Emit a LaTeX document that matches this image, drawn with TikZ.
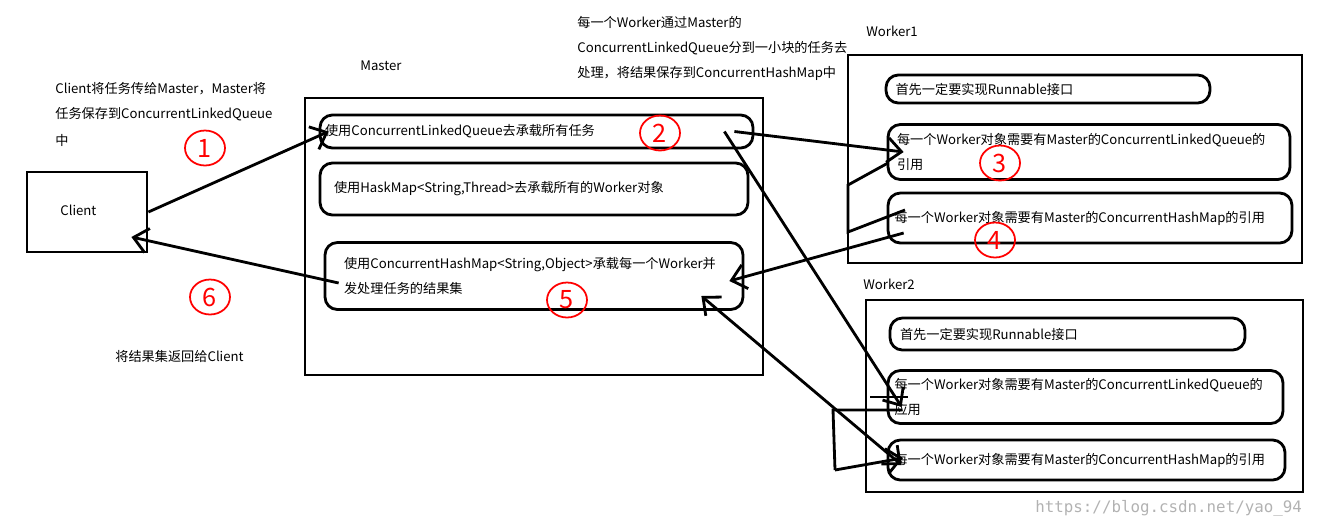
\documentclass[tikz,border=0pt]{standalone}
\usepackage{fontspec}
\setmainfont{Noto Sans CJK SC}
\setmonofont{DejaVu Sans Mono}
\usetikzlibrary{arrows.meta,shapes.geometric}

\begin{document}
\begin{tikzpicture}[x=0.02cm,y=-0.02cm,
    font=\fontsize{7.5}{14.5}\selectfont,
    pen/.style={line width=1.6pt},
    framebox/.style={rectangle, draw, pen},
    roundbox/.style={rectangle, draw, pen, rounded corners=7pt, align=left, inner sep=0pt},
    redmark/.style={ellipse, draw=red, text=red, line width=1pt, minimum width=0.8cm, minimum height=0.7cm, inner sep=0pt, font=\Large},
    note/.style={anchor=west, inner sep=0pt},
    arr/.style={pen, -{Straight Barb[length=8pt, width=14pt]}}]
    \useasboundingbox (0,0) rectangle (1327,528);

    % client side
    \node[framebox, minimum width=2.4cm, minimum height=1.6cm] (client) at (87,212) {};
    \node[note] (clientlbl) at (60,210) {Client};
    \node[note] (t1a) at (55,89) {Client将任务传给Master，Master将};
    \node[note] (t1b) at (55,114) {任务保存到ConcurrentLinkedQueue};
    \node[note] (t1c) at (55,140) {中};
    \node[note] (t6) at (115,356) {将结果集返回给Client};

    % master
    \node[note] (masterlbl) at (360,66) {Master};
    \node[framebox, minimum width=9.16cm, minimum height=5.54cm] (master) at (534,236.5) {};
    \node[roundbox, minimum width=8.66cm, minimum height=0.66cm, text width=8.46cm] (queue) at (536.5,131.5) {使用ConcurrentLinkedQueue去承载所有任务};
    \node[roundbox, minimum width=8.56cm, minimum height=1.04cm, text width=8.0cm] (workers) at (534,189) {使用HaskMap<String,Thread>去承载所有的Worker对象};
    \node[roundbox, minimum width=8.36cm, minimum height=1.34cm, text width=7.6cm] (results) at (534,276) {使用ConcurrentHashMap<String,Object>承载每一个Worker并\\发处理任务的结果集};

    % top note
    \node[note] (t2a) at (577,22) {每一个Worker通过Master的};
    \node[note] (t2b) at (577,48) {ConcurrentLinkedQueue分到一小块的任务去};
    \node[note] (t2c) at (577,73) {处理，将结果保存到ConcurrentHashMap中};

    % worker 1
    \node[note] (w1lbl) at (866,31) {Worker1};
    \node[framebox, minimum width=9.08cm, minimum height=4.16cm] (worker1) at (1075,159) {};
    \node[roundbox, minimum width=6.48cm, minimum height=0.56cm, text width=6.1cm] (w1run) at (1048,89) {首先一定要实现Runnable接口};
    \node[roundbox, minimum width=8.04cm, minimum height=1.1cm, text width=7.68cm] (w1queue) at (1089,152) {每一个Worker对象需要有Master的ConcurrentLinkedQueue的\\引用};
    \node[roundbox, minimum width=8.08cm, minimum height=1.0cm, text width=7.82cm] (w1map) at (1090,218) {每一个Worker对象需要有Master的ConcurrentHashMap的引用};

    % worker 2
    \node[note] (w2lbl) at (863,284) {Worker2};
    \node[framebox, minimum width=8.74cm, minimum height=3.84cm] (worker2) at (1084.5,396) {};
    \node[roundbox, minimum width=7.1cm, minimum height=0.64cm, text width=6.7cm] (w2run) at (1067.5,334) {首先一定要实现Runnable接口};
    \node[roundbox, minimum width=7.9cm, minimum height=1.06cm, text width=7.64cm] (w2queue) at (1085.5,397) {每一个Worker对象需要有Master的ConcurrentLinkedQueue的\\应用};
    \node[roundbox, minimum width=7.94cm, minimum height=0.8cm, text width=7.68cm] (w2map) at (1086.5,460) {每一个Worker对象需要有Master的ConcurrentHashMap的引用};

    % red marks
    \node[redmark] (m1) at (205,148) {1};
    \node[redmark] (m2) at (660,133) {2};
    \node[redmark] (m3) at (1000,163) {3};
    \node[redmark] (m4) at (995,240) {4};
    \node[redmark] (m5) at (567,300) {5};
    \node[redmark] (m6) at (210,297) {6};

    % connectors
    \draw[arr] (client.east) -- ([xshift=0.2cm]queue.west);
    \draw[arr] ([xshift=-0.4cm]queue.east) -- ([xshift=0.34cm]w1queue.west);
    \draw[arr] ([xshift=-0.6cm]queue.east) -- ([xshift=0.3cm,yshift=-0.2cm]w2queue.west);
    \draw[arr] ([xshift=0.34cm,yshift=-0.3cm]w1map.west) -- ([xshift=-0.3cm,yshift=-0.1cm]results.east);
    \draw[arr] ([xshift=0.3cm,yshift=-0.14cm]results.west) -- ([xshift=-0.34cm,yshift=-0.5cm]client.east);
    \draw[pen, {Straight Barb[length=8pt, width=14pt]}-{Straight Barb[length=8pt, width=14pt]}] ([xshift=-0.86cm,yshift=-0.4cm]results.east) -- ([xshift=0.3cm,yshift=-0.1cm]w2map.west);

    % side brackets
    \draw[pen] (888,163) -- (848,185) -- (848,232) -- (905,210);
    \draw[pen] (870,397) -- (908,397);
    \draw[pen] (902,410) -- (833,410) -- (835,470);
    \draw[arr] (835,470) -- (903,458);

    \node[note, text=gray!60, font=\ttfamily\fontsize{9}{10}\selectfont] (url) at (1035,508) {https://blog.csdn.net/yao\_94};
\end{tikzpicture}
\end{document}
